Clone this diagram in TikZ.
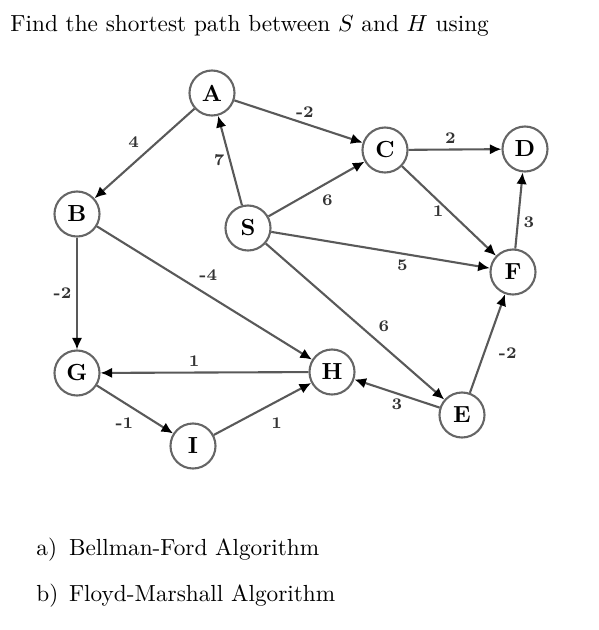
\documentclass[tikz,border=0pt]{standalone}
\usepackage{tikz}
\usetikzlibrary{arrows,arrows.meta,calc,positioning}

\begin{document}
\begin{tikzpicture}[x=0.0151cm,y=-0.0151cm,
  knoten/.style={circle,draw=black!60,line width=0.9pt,fill=white,minimum size=0.68cm,inner sep=0pt,font=\bfseries},
  kante/.style={draw=black!65,line width=0.9pt,-{Latex[length=5pt,width=4.5pt,color=black]}},
  gewicht/.style={font=\scriptsize\bfseries,text=black!80,inner sep=2pt}]
\useasboundingbox (0,0) rectangle (598,630);
%Aufgabentext
\node[anchor=base west,inner sep=0pt] (frage) at (10,31) {Find the shortest path between $S$ and $H$ using};
\node[anchor=base west,inner sep=0pt] (teila) at (36,555) {\makebox[14pt][l]{a)}Bellman-Ford Algorithm};
\node[anchor=base west,inner sep=0pt] (teilb) at (36,601) {\makebox[14pt][l]{b)}Floyd-Marshall Algorithm};
%Knoten (Pixelkoordinaten)
\foreach \name/\x/\y in {A/212/93,B/77/214,C/385/150,D/525/149,S/248/228,F/513/272,G/77/373,H/332/372,E/462/415,I/193/446}{
\node[knoten] (\name) at (\x,\y) {\name};
}
%Kanten: von/nach/Gewicht/pos/Lage/Abstand
\foreach \von/\nach/\w/\p/\lage/\d in {A/B/4/0.5/above left/0pt, A/C/-2/0.55/above/0pt, S/A/7/0.5/left/0pt,
  S/C/6/0.5/below right/0pt, C/D/2/0.45/above/0pt, C/F/1/0.5/left/0pt, S/F/5/0.6/below/0pt,
  F/D/3/0.35/right/0pt, S/E/6/0.6/above right/0pt, B/G/-2/0.5/left/0pt, B/H/-4/0.45/above right/0pt,
  H/G/1/0.55/above/0pt, G/I/-1/0.55/below left/0pt, I/H/1/0.5/below right/2pt,
  E/H/3/0.5/below/0pt, E/F/-2/0.4/right/4pt}{
\draw[kante] (\von) -- node[gewicht,pos=\p,\lage=\d] {\w} (\nach);
}
\end{tikzpicture}
\end{document}
